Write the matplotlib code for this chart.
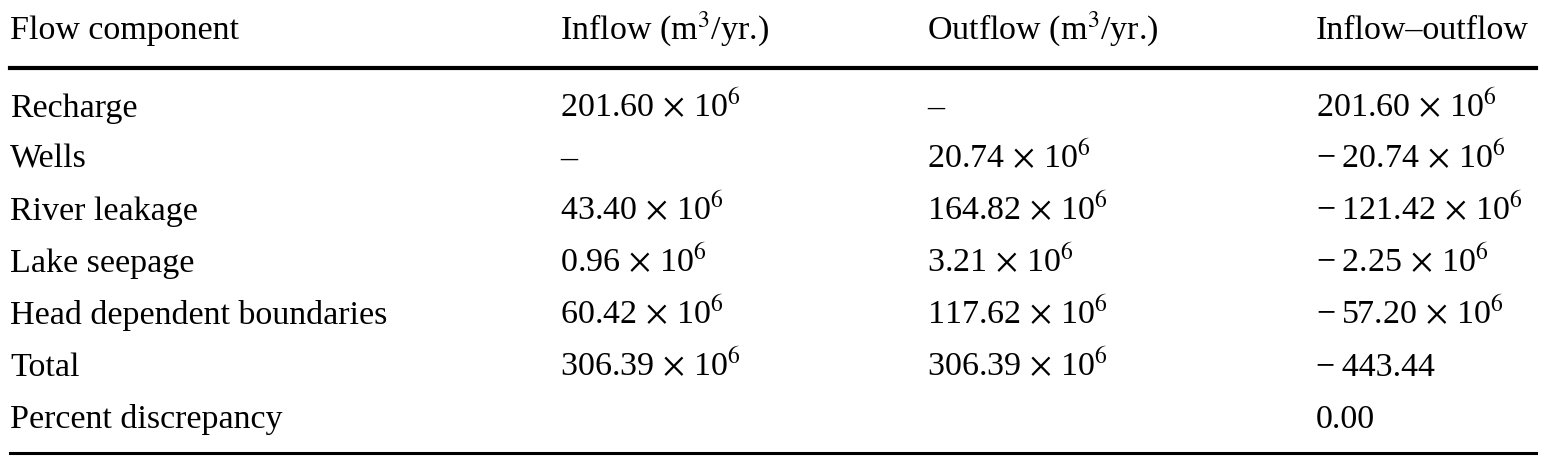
import matplotlib
matplotlib.use("Agg")
import matplotlib.pyplot as plt
from matplotlib.lines import Line2D

plt.rcParams['font.family'] = ['Liberation Serif', 'DejaVu Serif']
plt.rcParams['mathtext.fontset'] = 'stix'

headers = ["Flow component", "Inflow (m$^3$/yr.)", "Outflow (m$^3$/yr.)", "Inflow–outflow"]
components = ["Recharge", "Wells", "River leakage", "Lake seepage",
              "Head dependent boundaries", "Total", "Percent discrepancy"]
inflow = ["201.60", None, "43.40", "0.96", "60.42", "306.39", ""]
outflow = [None, "20.74", "164.82", "3.21", "117.62", "306.39", ""]
net = ["201.60", "−20.74", "−121.42", "−2.25", "−57.20", "−443.44", "0.00"]
net_sci = [True, True, True, True, True, False, False]

W, H = 1547, 459
fig = plt.figure(figsize=(W/100, H/100), dpi=100)

def px(x, y):
    return x / W, 1 - y / H

def fmt(v, sci=True):
    if v is None:
        return "–"
    if v == "":
        return ""
    if v.startswith("−"):
        v = "−\u2009" + v[1:]
    return v + r"$\,\times\,$10$^6$" if sci else v

col_x = [10, 560, 927, 1316]
fs = 24.5
for x, h in zip(col_x, headers):
    fig.text(*px(x, 39), h, fontsize=fs, va='baseline', ha='left')

row_y = [117, 168, 220, 272, 324, 376, 428]
for i, y in enumerate(row_y):
    cells = [components[i], fmt(inflow[i]), fmt(outflow[i]), fmt(net[i], net_sci[i])]
    for x, c in zip(col_x, cells):
        fig.text(*px(x, y), c, fontsize=fs, va='baseline', ha='left')

for y, lw in [(68, 3), (453, 2.2)]:
    fig.add_artist(Line2D([10/W, 1536/W], [1 - y/H]*2, color='black', lw=lw))

fig.savefig("out.png", dpi=100)
